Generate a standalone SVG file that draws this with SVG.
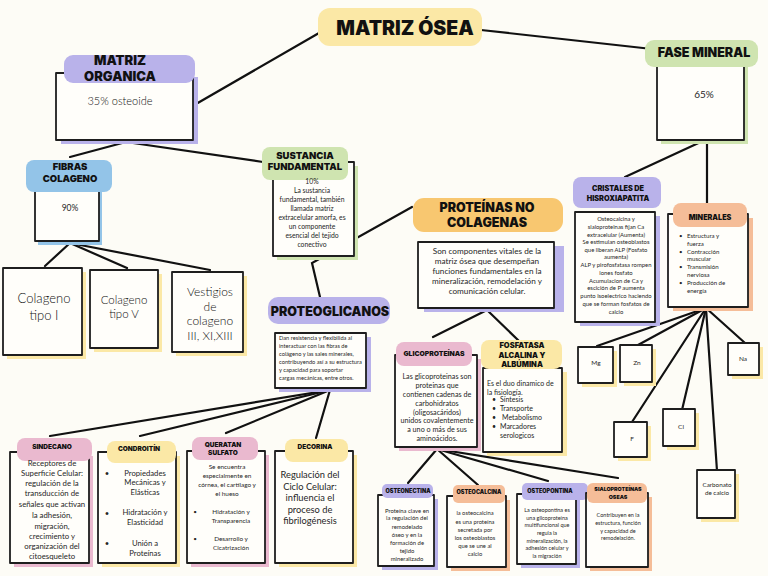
<svg xmlns="http://www.w3.org/2000/svg" width="768" height="576" viewBox="0 0 768 576">
<style>
.bx{fill:#fffefa;stroke:#1e1e1e;stroke-width:1.8;stroke-linejoin:round}
.h{font-family:Inter,Roboto,"DejaVu Sans",sans-serif;font-weight:900;fill:#111;text-anchor:middle}
.t{font-family:Lato,"Open Sans","Liberation Sans",sans-serif;font-weight:400;fill:#262626;text-anchor:middle}
.tl{font-family:Lato,"Open Sans","Liberation Sans",sans-serif;font-weight:400;fill:#262626;text-anchor:start}
.t.lt{font-weight:300;fill:#111}
.c line,.c polyline{stroke:#111;stroke-width:2.2;fill:none;stroke-linecap:round}
.pu{fill:#b9b2ea}.gr{fill:#cfe4b0}.bl{fill:#93c4e8}.ye{fill:#fbe8a6}.pk{fill:#eab9cf}.or{fill:#f8c770}.pe{fill:#f5bd98}
</style>
<rect width="768" height="576" fill="#fdfcf6"/>

<g id="connectors" class="c">
<line x1="196" y1="104" x2="319" y2="33"/>
<line x1="481" y1="30" x2="652" y2="49"/>
<line x1="126" y1="142" x2="70" y2="157"/>
<line x1="126" y1="142" x2="263" y2="162"/>
<line x1="70" y1="243" x2="45" y2="266"/>
<line x1="70" y1="243" x2="127" y2="268"/>
<line x1="70" y1="243" x2="210" y2="270"/>
<polyline points="412,207 312,263 320,297"/>
<line x1="705" y1="140" x2="625" y2="177"/>
<line x1="707" y1="140" x2="707" y2="205"/>
<line x1="487" y1="310" x2="433" y2="337"/>
<line x1="487" y1="310" x2="519" y2="341"/>
<line x1="330" y1="390" x2="50" y2="436"/>
<line x1="330" y1="390" x2="140" y2="436"/>
<line x1="330" y1="390" x2="226" y2="433"/>
<line x1="330" y1="390" x2="316" y2="438"/>
<line x1="437" y1="449" x2="408" y2="483"/>
<line x1="437" y1="449" x2="478" y2="485"/>
<line x1="437" y1="449" x2="548" y2="481"/>
<line x1="437" y1="449" x2="618" y2="478"/>
<line x1="706" y1="308" x2="597" y2="346"/>
<line x1="706" y1="308" x2="638" y2="345"/>
<line x1="706" y1="308" x2="745" y2="343"/>
<line x1="706" y1="308" x2="632" y2="422"/>
<line x1="706" y1="308" x2="682" y2="410"/>
<line x1="706" y1="308" x2="717" y2="471"/>
</g>

<g id="title">
<rect x="318" y="8" width="164" height="38" rx="12" class="ye"/>
<text x="405" y="35" class="h" font-size="19.5">MATRIZ ÓSEA</text>
</g>

<g id="matriz-organica">
<rect x="61" y="77" width="137" height="67" class="pu"/>
<rect x="56" y="73" width="137" height="67" class="bx"/>
<rect x="64" y="55" width="131" height="28" rx="9" class="pu"/>
<text x="120" y="65" class="h" font-size="13">MATRIZ</text>
<text x="120" y="81" class="h" font-size="13">ORGANICA</text>
<text x="120" y="105" class="t lt" font-size="11">35% osteoide</text>
</g>

<g id="fase-mineral">
<rect x="661" y="64" width="87" height="80" class="gr"/>
<rect x="657" y="60" width="87" height="80" class="bx"/>
<rect x="645" y="40" width="113" height="27" rx="9" class="gr"/>
<text x="704" y="57" class="h" font-size="12.5">FASE MINERAL</text>
<text x="704" y="97.5" class="t" font-size="10">65%</text>
</g>

<g id="fibras-colageno">
<rect x="38" y="188" width="64" height="57" class="bl"/>
<rect x="35" y="185" width="64" height="56" class="bx"/>
<rect x="26" y="160" width="86" height="32" rx="8" class="bl"/>
<text x="70" y="169.5" class="h" font-size="9.5">FIBRAS</text>
<text x="70" y="181.5" class="h" font-size="9.5">COLAGENO</text>
<text x="70" y="211" class="t" font-size="8.5">90%</text>
</g>

<g id="colageno-tipo-1">
<rect x="7" y="272" width="79" height="87" class="ye"/>
<rect x="3" y="268" width="79" height="87" class="bx"/>
<text x="44" y="302.5" class="t lt" font-size="13">Colageno</text>
<text x="44" y="319.5" class="t lt" font-size="13">tipo I</text>
</g>

<g id="colageno-tipo-5">
<rect x="94" y="274" width="68" height="78" class="ye"/>
<rect x="90" y="270" width="68" height="78" class="bx"/>
<text x="124" y="303.5" class="t lt" font-size="11.5">Colageno</text>
<text x="124" y="317.5" class="t lt" font-size="11.5">tipo V</text>
</g>

<g id="vestigios">
<rect x="176" y="276" width="71" height="80" class="ye"/>
<rect x="172" y="272" width="71" height="80" class="bx"/>
<text x="210" y="296" class="t lt" font-size="12">Vestigios</text>
<text x="210" y="310.5" class="t lt" font-size="12">de</text>
<text x="210" y="325" class="t lt" font-size="12">colageno</text>
<text x="210" y="339.5" class="t lt" font-size="12">III, XI,XIII</text>
</g>

<g id="sustancia-fundamental">
<rect x="277" y="166" width="81" height="94" class="gr"/>
<rect x="273" y="162" width="81" height="94" class="bx"/>
<rect x="262" y="147" width="86" height="33" rx="8" class="gr"/>
<text x="305" y="158.5" class="h" font-size="9.5">SUSTANCIA</text>
<text x="305" y="170" class="h" font-size="9.5">FUNDAMENTAL</text>
<g class="t" font-size="6.8">
<text x="312" y="184.3">10%</text>
<text x="312" y="193.3">La sustancia</text>
<text x="312" y="202.3">fundamental, también</text>
<text x="312" y="211.3">llamada matriz</text>
<text x="312" y="220.3">extracelular amorfa, es</text>
<text x="312" y="229.3">un componente</text>
<text x="312" y="238.3">esencial del tejido</text>
<text x="312" y="247.3">conectivo</text>
</g>
</g>

<g id="proteoglicanos">
<rect x="279" y="337" width="92" height="55" class="pu"/>
<rect x="275" y="333" width="91" height="55" class="bx"/>
<rect x="268" y="297" width="122" height="27" rx="10" class="pu"/>
<text x="330" y="315.5" class="h" font-size="12.5">PROTEOGLICANOS</text>
<g class="tl" font-size="5.7">
<text x="279" y="340">Dan resistencia y flexibilida al</text>
<text x="279" y="348">interactuar con las fibras de</text>
<text x="279" y="356">colágeno y las sales minerales,</text>
<text x="279" y="364">contribuyendo así a su estructura</text>
<text x="279" y="372">y capacidad para soportar</text>
<text x="279" y="380">cargas mecánicas, entre otros.</text>
</g>
</g>

<g id="proteinas-no-colagenas">
<rect x="424" y="246" width="140" height="66" class="pu"/>
<rect x="418" y="242" width="136" height="66" class="bx"/>
<rect x="413" y="198" width="150" height="34" rx="11" class="or"/>
<text x="487" y="211.5" class="h" font-size="12.5">PROTEÍNAS NO</text>
<text x="487" y="226.5" class="h" font-size="12.5">COLAGENAS</text>
<g class="t" font-size="8.2">
<text x="487" y="253.8">Son componentes vitales de la</text>
<text x="487" y="263.8">matriz ósea que desempeñan</text>
<text x="487" y="273.8">funciones fundamentales en la</text>
<text x="487" y="283.8">mineralización, remodelación y</text>
<text x="487" y="293.8">comunicación celular.</text>
</g>
</g>

<g id="cristales-hidroxiapatita">
<rect x="580" y="216" width="80" height="110" class="pu"/>
<rect x="575" y="212" width="80" height="110" class="bx"/>
<rect x="573" y="177" width="88" height="31" rx="8" class="pu"/>
<text x="618" y="190.5" class="h" font-size="7.3">CRISTALES DE</text>
<text x="618" y="200.5" class="h" font-size="7.3">HISROXIAPATITA</text>
<g class="t" font-size="5.9">
<text x="616" y="221">Osteocalcina y</text>
<text x="616" y="229">sialoproteinas fijan Ca</text>
<text x="616" y="237">extracelular (Aumenta)</text>
<text x="616" y="244">Se estimulan osteoblastos</text>
<text x="616" y="252">que liberan ALP (Fosfato</text>
<text x="616" y="259">aumenta)</text>
<text x="616" y="267">ALP y pirofosfatasa rompen</text>
<text x="616" y="275">iones fosfato</text>
<text x="616" y="283">Acumulacion de Ca y</text>
<text x="616" y="290">escición de P aumenta</text>
<text x="616" y="298">punto isoelectrico haciendo</text>
<text x="616" y="306">que se forman fosfatos de</text>
<text x="616" y="314">calcio</text>
</g>
</g>

<g id="minerales">
<rect x="673" y="218" width="80" height="93" class="pe"/>
<rect x="668" y="214" width="80" height="93" class="bx"/>
<rect x="673" y="203" width="74" height="24" rx="8" class="pe"/>
<text x="710" y="219.5" class="h" font-size="7.2">MINERALES</text>
<g class="tl" font-size="6.1">
<text x="679" y="238">•</text><text x="687" y="238">Estructura y</text>
<text x="687" y="246">fuerza</text>
<text x="679" y="254">•</text><text x="687" y="254">Contracción</text>
<text x="687" y="261">muscular</text>
<text x="679" y="269">•</text><text x="687" y="269">Transmisión</text>
<text x="687" y="277">nerviosa</text>
<text x="679" y="285">•</text><text x="687" y="285">Producción de</text>
<text x="687" y="293">energía</text>
</g>
</g>

<g id="mg"><rect x="582" y="351" width="35" height="36" class="ye"/><rect x="578" y="347" width="35" height="36" class="bx"/><text x="596" y="364.5" class="t" font-size="6.5">Mg</text></g>
<g id="zn"><rect x="624" y="349" width="32" height="37" class="ye"/><rect x="620" y="345" width="32" height="37" class="bx"/><text x="637" y="364.5" class="t" font-size="6.5">Zn</text></g>
<g id="na"><rect x="732" y="347" width="31" height="32" class="ye"/><rect x="728" y="343" width="31" height="32" class="bx"/><text x="743" y="360.5" class="t" font-size="6.5">Na</text></g>
<g id="cl"><rect x="667" y="413" width="32" height="37" class="ye"/><rect x="663" y="409" width="32" height="37" class="bx"/><text x="681" y="428.5" class="t" font-size="6.5">Cl</text></g>
<g id="f"><rect x="618" y="426" width="33" height="35" class="ye"/><rect x="614" y="422" width="33" height="35" class="bx"/><text x="632" y="440.5" class="t" font-size="6.5">F</text></g>
<g id="carbonato"><rect x="701" y="474" width="38" height="48" class="ye"/><rect x="697" y="470" width="38" height="48" class="bx"/><text x="717" y="487" class="t" font-size="6.3">Carbonato</text><text x="717" y="495" class="t" font-size="6.3">de calcio</text></g>

<g id="glicoproteinas">
<rect x="399" y="359" width="82" height="92" class="pk"/>
<rect x="395" y="355" width="82" height="92" class="bx"/>
<rect x="396" y="342" width="76" height="24" rx="8" class="pk"/>
<text x="434" y="355.5" class="h" font-size="6.8">GLICOPROTEÍNAS</text>
<g class="t" font-size="7.2">
<text x="437" y="378.5">Las glicoproteinas son</text>
<text x="437" y="387.5">proteinas que</text>
<text x="437" y="396.5">contienen cadenas de</text>
<text x="437" y="405.5">carbohidratos</text>
<text x="437" y="414.5">(oligosacáridos)</text>
<text x="437" y="422.5">unidos covalentemente</text>
<text x="437" y="431.5">a uno o más de sus</text>
<text x="437" y="440.5">aminoácidos.</text>
</g>
</g>

<g id="fosfatasa-albumina">
<rect x="487" y="372" width="80" height="84" class="ye"/>
<rect x="483" y="368" width="79" height="84" class="bx"/>
<rect x="481" y="340" width="81" height="29" rx="8" class="ye"/>
<text x="522" y="347.7" class="h" font-size="7.5">FOSFATASA</text>
<text x="522" y="357.7" class="h" font-size="7.5">ALCALINA Y</text>
<text x="522" y="366.7" class="h" font-size="7.5">ALBÚMINA</text>
<g class="tl" font-size="7">
<text x="487" y="385.5">Es el duo dinamico de</text>
<text x="487" y="394.5">la fisiología.</text>
<text x="492" y="402.4">•</text><text x="500" y="402.4">Síntesis</text>
<text x="492" y="411.4">•</text><text x="500" y="411.4">Transporte</text>
<text x="492" y="420.4">•</text><text x="502" y="420.4">Metabolismo</text>
<text x="492" y="429.4">•</text><text x="500" y="429.4">Marcadores</text>
<text x="500" y="438.4">serologicos</text>
</g>
</g>

<g id="sindecano">
<rect x="14" y="456" width="79" height="111" class="pk"/>
<rect x="10" y="452" width="79" height="111" class="bx"/>
<rect x="17" y="438" width="75" height="23" rx="8" class="pk"/>
<text x="52" y="449.3" class="h" font-size="6.5">SINDECANO</text>
<g class="t" font-size="7.8">
<text x="52" y="465.7">Receptores de</text>
<text x="52" y="475.7">Superficie Celular:</text>
<text x="52" y="485.7">regulación de la</text>
<text x="52" y="495.7">transducción de</text>
<text x="52" y="506.7">señales que activan</text>
<text x="52" y="517.7">la adhesión,</text>
<text x="52" y="528.7">migración,</text>
<text x="52" y="538.7">crecimiento y</text>
<text x="52" y="548.7">organización del</text>
<text x="52" y="558.7">citoesqueleto</text>
</g>
</g>

<g id="condroitin">
<rect x="102" y="456" width="78" height="111" class="ye"/>
<rect x="98" y="452" width="78" height="111" class="bx"/>
<rect x="107" y="441" width="69" height="22" rx="8" class="ye"/>
<text x="139" y="451" class="h" font-size="6.5">CONDROITÍN</text>
<g class="t" font-size="7.7">
<text x="107" y="475.6">•</text>
<text x="145" y="475.6">Propiedades</text>
<text x="145" y="484.6">Mecánicas y</text>
<text x="145" y="494.6">Elásticas</text>
<text x="107" y="515.6">•</text>
<text x="145" y="514.6">Hidratación y</text>
<text x="145" y="524.6">Elasticidad</text>
<text x="107" y="545.6">•</text>
<text x="145" y="545.6">Unión a</text>
<text x="145" y="555.6">Proteínas</text>
</g>
</g>

<g id="queratan-sulfato">
<rect x="191" y="455" width="78" height="112" class="pk"/>
<rect x="187" y="451" width="78" height="112" class="bx"/>
<rect x="192" y="437" width="66" height="23" rx="8" class="pk"/>
<text x="223" y="447.3" class="h" font-size="6.5">QUERATAN</text>
<text x="223" y="455.3" class="h" font-size="6.5">SULFATO</text>
<g class="t" font-size="6.4">
<text x="227" y="469.2">Se encuentra</text>
<text x="227" y="478.2">especialmente en</text>
<text x="227" y="487.2">córnea, el cartílago y</text>
<text x="227" y="496.2">el hueso</text>
<text x="195" y="514.2">•</text>
<text x="231" y="514.2">Hidratación y</text>
<text x="231" y="523.2">Transparencia</text>
<text x="195" y="541.2">•</text>
<text x="231" y="541.2">Desarrollo y</text>
<text x="231" y="550.2">Cicatrización</text>
</g>
</g>

<g id="decorina">
<rect x="279" y="455" width="78" height="112" class="ye"/>
<rect x="275" y="451" width="78" height="112" class="bx"/>
<rect x="285" y="439" width="63" height="23" rx="8" class="ye"/>
<text x="315" y="449.3" class="h" font-size="6.5">DECORINA</text>
<g class="t" font-size="9.3">
<text x="310" y="478.2">Regulación del</text>
<text x="310" y="490.2">Ciclo Celular:</text>
<text x="310" y="501.2">influencia el</text>
<text x="310" y="513.2">proceso de</text>
<text x="310" y="524.2">fibrilogénesis</text>
</g>
</g>

<g id="osteonectina">
<rect x="382" y="499" width="56" height="71" class="pu"/>
<rect x="378" y="495" width="56" height="71" class="bx"/>
<rect x="382" y="484" width="51" height="14" rx="5" class="pu"/>
<text x="408" y="493" class="h" font-size="5.5">OSTEONECTINA</text>
<g class="t" font-size="5.9">
<text x="407" y="513">Proteína clave en</text>
<text x="407" y="520">la regulación del</text>
<text x="407" y="529">remodelado</text>
<text x="407" y="537">óseo y en la</text>
<text x="407" y="545">formación de</text>
<text x="407" y="553">tejido</text>
<text x="407" y="561">mineralizado</text>
</g>
</g>

<g id="osteocalcina">
<rect x="451" y="500" width="59" height="71" class="pe"/>
<rect x="447" y="496" width="59" height="71" class="bx"/>
<rect x="453" y="485" width="52" height="18" rx="5" class="pe"/>
<text x="479" y="494" class="h" font-size="5.5">OSTEOCALCINA</text>
<g class="t" font-size="5.8">
<text x="475" y="515">la osteocalcina</text>
<text x="475" y="524">es una proteína</text>
<text x="475" y="532">secretada por</text>
<text x="475" y="540">los osteoblastos</text>
<text x="475" y="548">que se une al</text>
<text x="475" y="556">calcio</text>
</g>
</g>

<g id="osteopontina">
<rect x="521" y="498" width="59" height="70" class="pu"/>
<rect x="517" y="494" width="59" height="70" class="bx"/>
<rect x="522" y="483" width="66" height="17" rx="5" class="pu"/>
<text x="550" y="493" class="h" font-size="5.5">OSTEOPONTINA</text>
<g class="t" font-size="5.5">
<text x="547" y="512">La osteopontina es</text>
<text x="547" y="520">una glicoproteína</text>
<text x="547" y="527">multifuncional que</text>
<text x="547" y="535">regula la</text>
<text x="547" y="543">mineralización, la</text>
<text x="547" y="550">adhesión celular y</text>
<text x="547" y="558">la migración</text>
</g>
</g>

<g id="sialoproteinas">
<rect x="590" y="497" width="62" height="74" class="pe"/>
<rect x="586" y="493" width="62" height="74" class="bx"/>
<rect x="587" y="483" width="60" height="20" rx="6" class="pe"/>
<text x="618" y="491" class="h" font-size="5.3">SIALOPROTEÍNAS</text>
<text x="618" y="498.5" class="h" font-size="5.3">OSEAS</text>
<g class="t" font-size="5.5">
<text x="618" y="517">Contribuyen en la</text>
<text x="618" y="525">estructura, función</text>
<text x="618" y="533">y capacidad de</text>
<text x="618" y="540">remodelación.</text>
</g>
</g>
</svg>
